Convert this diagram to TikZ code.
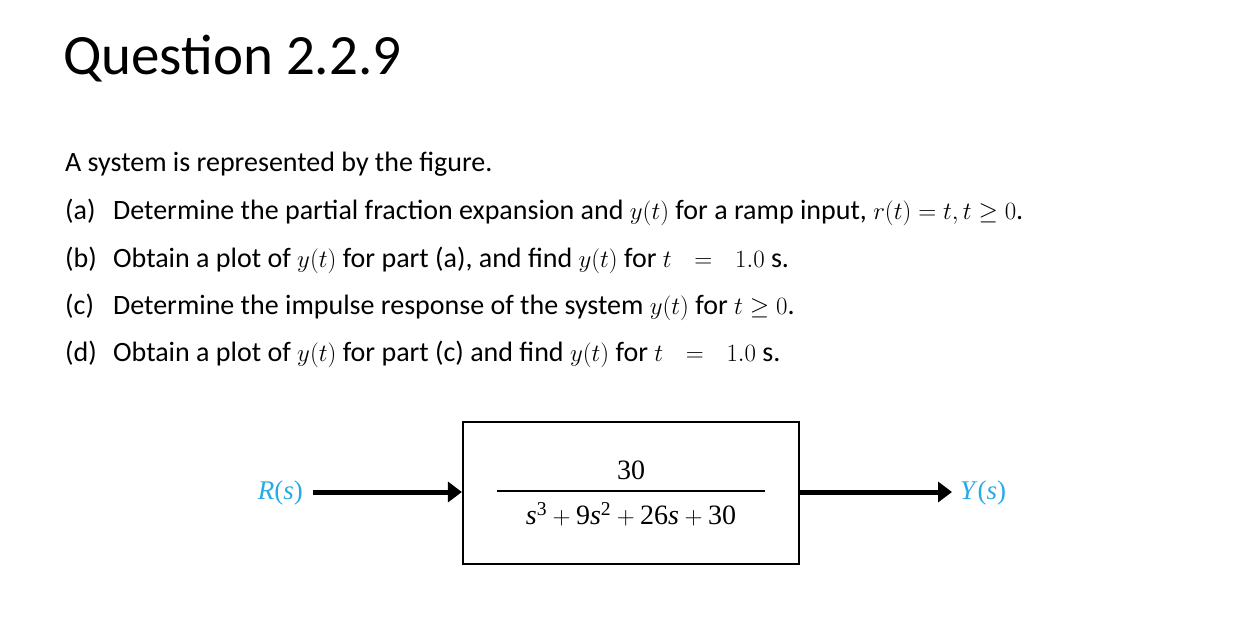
\documentclass[tikz,border=0pt]{standalone}
\usepackage{fontspec}
\setmainfont{Carlito}
\newfontfamily\titlefont{Carlito}
\newfontfamily\tnr{Liberation Serif}
\usetikzlibrary{arrows.meta}
\definecolor{sigblue}{RGB}{40,170,230}
\tikzset{line/.style={anchor=base west,inner sep=0pt,font=\fontsize{28}{32}\selectfont},
 sig/.style={line width=5pt,-{Triangle[length=14pt,width=20pt]}},
 lbl/.style={text=sigblue,font=\tnr\fontsize{27}{30}\selectfont,inner sep=0pt}}
\newcommand{\lab}[1]{\makebox[48pt][l]{#1}}
\newcommand{\mm}[1]{{\fontsize{35}{40}\selectfont$#1$}}
\begin{document}
\begin{tikzpicture}[x=1pt,y=-1pt]
\useasboundingbox (0,0) rectangle (1233,624);
\node[anchor=base west,inner sep=0pt,font=\titlefont\fontsize{57}{64}\selectfont] (title) at (63,74) {Question 2.2.9};
\node[line] (l0) at (65,171) {A system is represented by the figure.};
\node[line] (l1) at (65,219) {\lab{(a)}Determine the partial fraction expansion and \mm{y(t)} for a ramp input, \mm{r(t)=t, t\geq 0}.};
\node[line] (l2) at (65,267) {\lab{(b)}Obtain a plot of \mm{y(t)} for part (a), and find \mm{y(t)} for \mm{t\ \ =\ \ 1.0} s.};
\node[line] (l3) at (65,314) {\lab{(c)}Determine the impulse response of the system \mm{y(t)} for \mm{t\geq 0}.};
\node[line] (l4) at (65,361) {\lab{(d)}Obtain a plot of \mm{y(t)} for part (c) and find \mm{y(t)} for \mm{t\ \ =\ \ 1.0} s.};
\node[draw,line width=2.2pt,minimum width=336pt,minimum height=142pt,inner sep=0pt] (blk) at (631,493) {};
\node[inner sep=0pt,font=\tnr\fontsize{28}{30}\selectfont] (num) at (631,470) {30};
\node[inner sep=0pt,font=\tnr\fontsize{28}{30}\selectfont] (den) at (631,514) {\textit{s}\textsuperscript{3}${}+{}$9\textit{s}\textsuperscript{2}${}+{}$26\textit{s}${}+{}$30};
\draw[line width=1.2pt] (497,491) -- (765,491);
\node[lbl,anchor=east] (R) at (303,493) {\textit{R}(\textit{s})};
\node[lbl,anchor=west] (Y) at (960,493) {\textit{Y}(\textit{s})};
\coordinate (rs) at (313,492);
\coordinate (ye) at (952,492);
\draw[sig] (rs) -- (blk.west|-rs);
\draw[sig] (blk.east|-rs) -- (ye);
\end{tikzpicture}
\end{document}
